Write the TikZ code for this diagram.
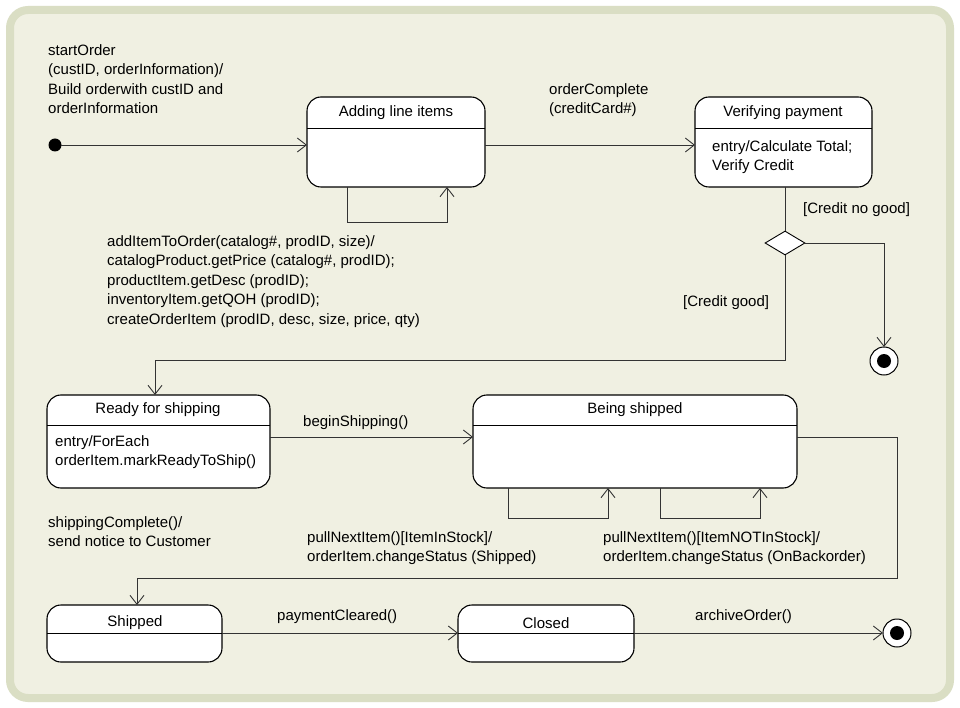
\documentclass[tikz,border=0pt]{standalone}
\usepackage{fontspec}
\setmainfont{Liberation Sans}
\usetikzlibrary{arrows.meta,shapes.geometric}
\begin{document}
\begin{tikzpicture}[x=1pt,y=-1pt,
  st/.style={draw=black,line width=1.1pt,rounded corners=14pt,fill=white},
  hd/.style={draw=black,line width=0.8pt},
  ar/.style={draw=black!80,line width=0.8pt,-{Straight Barb[length=9pt,width=14pt,line width=0.9pt]}},
  ln/.style={draw=black!80,line width=0.8pt},
  lab/.style={font=\fontsize{15}{19.5}\selectfont,align=left,inner sep=0pt},
  ttl/.style={font=\fontsize{15}{16}\selectfont,inner sep=0pt}]
\useasboundingbox (0,0) rectangle (960,708);
\fill[white] (0,0) rectangle (960,708);
\draw[draw={rgb,255:red,218;green,222;blue,196},line width=8pt,fill={rgb,255:red,240;green,240;blue,226},rounded corners=18pt] (10,10) rectangle (950,698);
% states
\draw[st] (307,97) rectangle (485,187); \draw[hd] (307,128)--(485,128);
\node[ttl] (add) at (396,113) {Adding line items};
\draw[st] (695,97) rectangle (872,187); \draw[hd] (695,128)--(872,128);
\node[ttl] (ver) at (783,113) {Verifying payment};
\node[lab,anchor=north west] at (712,140) {entry/Calculate Total;\\Verify Credit};
\draw[st] (47,395) rectangle (270,488); \draw[hd] (47,425)--(270,425);
\node[ttl] (rdy) at (158,410) {Ready for shipping};
\node[lab,anchor=north west] at (55,435) {entry/ForEach\\orderItem.markReadyToShip()};
\draw[st] (473,395) rectangle (797,488); \draw[hd] (473,425)--(797,425);
\node[ttl] (bs) at (635,410) {Being shipped};
\draw[st] (47,605) rectangle (222,662); \draw[hd] (47,633)--(222,633);
\node[ttl] (shp) at (135,623) {Shipped};
\draw[st] (458,605) rectangle (634,662); \draw[hd] (458,633)--(634,633);
\node[ttl] (cls) at (546,623) {Closed};
% pseudo states
\fill (55,145) circle (6.5);
\node[draw,line width=0.9pt,fill=white,diamond,minimum width=40pt,minimum height=24pt,inner sep=0pt] (dia) at (785,243) {};
\draw[line width=1pt,fill=white] (884,361) circle (14); \fill (884,361) circle (7);
\draw[line width=1pt,fill=white] (897,633) circle (14); \fill (897,633) circle (7);
\coordinate (f1) at (884,347); \coordinate (f2) at (883,633);
% connectors
\draw[ar] (61,145) -- (307,145);
\draw[ar] (485,145) -- (695,145);
\draw[ar] (347,187) |- (447,222) -- (447,187);
\draw[ln] (785,187) -- (dia.north);
\draw[ar] (dia.east) -| (f1);
\draw[ar] (dia.south) |- (155,360) -- (155,395);
\draw[ar] (270,437) -- (473,437);
\draw[ar] (508,488) |- (608,518) -- (608,488);
\draw[ar] (660,488) |- (760,518) -- (760,488);
\draw[ar] (797,437) -| (897,578) -| (137,605);
\draw[ar] (222,633) -- (458,633);
\draw[ar] (634,633) -- (f2);
% labels
\node[lab,anchor=north west] at (48,44) {startOrder\\(custID, orderInformation)/\\Build orderwith custID and\\orderInformation};
\node[lab,anchor=north west] at (549,83) {orderComplete\\(creditCard\#)};
\node[lab,anchor=north west] at (107,235) {addItemToOrder(catalog\#, prodID, size)/\\catalogProduct.getPrice (catalog\#, prodID);\\productItem.getDesc (prodID);\\inventoryItem.getQOH (prodID);\\createOrderItem (prodID, desc, size, price, qty)};
\node[lab,anchor=north west] at (803,202) {[Credit no good]};
\node[lab,anchor=north west] at (683,295) {[Credit good]};
\node[lab,anchor=north west] at (303,415) {beginShipping()};
\node[lab,anchor=north west] at (48,516) {shippingComplete()/\\send notice to Customer};
\node[lab,anchor=north west] at (307,531) {pullNextItem()[ItemInStock]/\\orderItem.changeStatus (Shipped)};
\node[lab,anchor=north west] at (603,531) {pullNextItem()[ItemNOTInStock]/\\orderItem.changeStatus (OnBackorder)};
\node[lab,anchor=north west] at (277,609) {paymentCleared()};
\node[lab,anchor=north west] at (695,609) {archiveOrder()};
\end{tikzpicture}
\end{document}
